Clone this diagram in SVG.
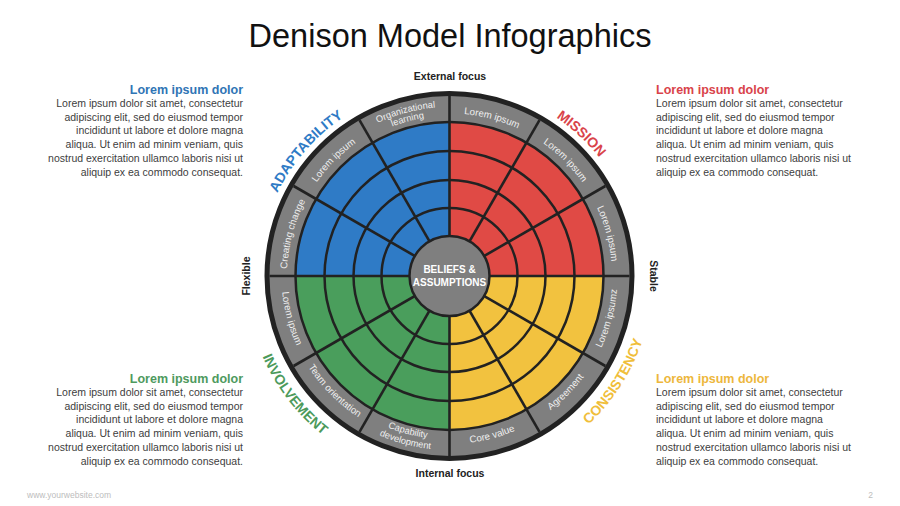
<svg xmlns="http://www.w3.org/2000/svg" width="900" height="506" viewBox="0 0 900 506">
<style>
text{font-family:"Liberation Sans",Arial,sans-serif}
.title{font-size:32.5px;fill:#111}
.axis{font-size:10.5px;font-weight:bold;fill:#222}
.head{font-size:12.5px;font-weight:bold}
.body{font-size:10.5px;fill:#404040}
.rl{font-size:9.7px;fill:#efefef}
.rl2{font-size:9.3px;fill:#efefef}
.qt{font-size:14px;font-weight:bold}
.center{font-size:10px;font-weight:bold;fill:#fff}
.foot{font-size:8.5px;fill:#bdbdbd}
.ring{fill:none;stroke:#222;stroke-width:2.5}
.div{stroke:#222;stroke-width:2.6}
</style>
<defs>
<path id="arcT162" d="M345.05,151.52 A162.5,162.5 0 0 1 553.95,151.52"/>
<path id="arcT169" d="M340.87,146.55 A169,169 0 0 1 558.13,146.55"/>
<path id="arcT160" d="M346.65,153.44 A160,160 0 0 1 552.35,153.44"/>
<path id="arcB168" d="M341.51,404.69 A168,168 0 0 0 557.49,404.69"/>
<path id="arcB163" d="M344.40,401.24 A163.5,163.5 0 0 0 554.60,401.24"/>
<path id="arcB174" d="M337.65,409.28 A174,174 0 0 0 561.35,409.28"/>
<path id="arcT191" d="M326.73,129.69 A191,191 0 0 1 572.27,129.69"/>
<path id="arcB203" d="M318.69,431.88 A203.5,203.5 0 0 0 580.31,431.88"/>
</defs>
<rect width="900" height="506" fill="#fff"/>
<text class="title" x="450" y="47" text-anchor="middle">Denison Model Infographics</text>
<text class="axis" x="450" y="80" text-anchor="middle">External focus</text>
<text class="axis" x="450" y="477" text-anchor="middle">Internal focus</text>
<text class="axis" x="249.5" y="276" text-anchor="middle" transform="rotate(-90 249.5 276)">Flexible</text>
<text class="axis" x="650" y="276" text-anchor="middle" transform="rotate(90 650 276)">Stable</text>

<g id="wheel">
<circle cx="449.5" cy="276" r="167.5" fill="none" stroke="#7f7f7f" stroke-width="27"/>
<g id="quadrant-mission">
<path d="M449.5,276 L449.5,122 A154,154 0 0 1 603.5,276 Z" fill="#E04A45"/>
</g>
<g id="quadrant-consistency">
<path d="M449.5,276 L603.5,276 A154,154 0 0 1 449.5,430 Z" fill="#F2C23F"/>
</g>
<g id="quadrant-involvement">
<path d="M449.5,276 L449.5,430 A154,154 0 0 1 295.5,276 Z" fill="#4A9E5C"/>
</g>
<g id="quadrant-adaptability">
<path d="M449.5,276 L295.5,276 A154,154 0 0 1 449.5,122 Z" fill="#2F7BC6"/>
</g>
<g id="rings">
<circle class="ring" cx="449.5" cy="276" r="68"/>
<circle class="ring" cx="449.5" cy="276" r="96"/>
<circle class="ring" cx="449.5" cy="276" r="125"/>
<circle class="ring" cx="449.5" cy="276" r="154"/>
</g>
<g id="connectors">
<line class="div" x1="449.5" y1="96" x2="449.5" y2="456"/>
<line class="div" x1="269.5" y1="276" x2="629.5" y2="276"/>
<line class="div" x1="539.5" y1="120.12" x2="359.5" y2="431.88"/>
<line class="div" x1="605.38" y1="186" x2="293.62" y2="366"/>
<line class="div" x1="605.38" y1="366" x2="293.62" y2="186"/>
<line class="div" x1="539.5" y1="431.88" x2="359.5" y2="120.12"/>
</g>
<circle cx="449.5" cy="276" r="182.5" fill="none" stroke="#222" stroke-width="5"/>
<g id="center-node">
<circle cx="449.5" cy="276" r="40" fill="#7f7f7f" stroke="#222" stroke-width="2.5"/>
<text class="center" x="449.5" y="273" text-anchor="middle">BELIEFS &amp;</text>
<text class="center" x="449.5" y="285.5" text-anchor="middle">ASSUMPTIONS</text>
</g>
<g id="ring-labels">
<text class="rl" text-anchor="middle" transform="rotate(15 449.5 276)"><textPath href="#arcT162" startOffset="50%">Lorem ipsum</textPath></text>
<text class="rl" text-anchor="middle" transform="rotate(45 449.5 276)"><textPath href="#arcT162" startOffset="50%">Lorem ipsum</textPath></text>
<text class="rl" text-anchor="middle" transform="rotate(75 449.5 276)"><textPath href="#arcT162" startOffset="50%">Lorem ipsum</textPath></text>
<text class="rl" text-anchor="middle" transform="rotate(-75 449.5 276)"><textPath href="#arcT162" startOffset="50%">Creating change</textPath></text>
<text class="rl" text-anchor="middle" transform="rotate(-45 449.5 276)"><textPath href="#arcT162" startOffset="50%">Lorem ipsum</textPath></text>
<text class="rl2" text-anchor="middle" transform="rotate(-15 449.5 276)"><textPath href="#arcT169" startOffset="50%">Organizational</textPath></text>
<text class="rl2" text-anchor="middle" transform="rotate(-15 449.5 276)"><textPath href="#arcT160" startOffset="50%">learning</textPath></text>
<text class="rl" text-anchor="middle" transform="rotate(-75 449.5 276)"><textPath href="#arcB168" startOffset="50%">Lorem ipsumz</textPath></text>
<text class="rl" text-anchor="middle" transform="rotate(-45 449.5 276)"><textPath href="#arcB168" startOffset="50%">Agreement</textPath></text>
<text class="rl" text-anchor="middle" transform="rotate(-15 449.5 276)"><textPath href="#arcB168" startOffset="50%">Core value</textPath></text>
<text class="rl2" text-anchor="middle" transform="rotate(15 449.5 276)"><textPath href="#arcB163" startOffset="50%">Capability</textPath></text>
<text class="rl2" text-anchor="middle" transform="rotate(15 449.5 276)"><textPath href="#arcB174" startOffset="50%">development</textPath></text>
<text class="rl" text-anchor="middle" transform="rotate(45 449.5 276)"><textPath href="#arcB168" startOffset="50%">Team orientation</textPath></text>
<text class="rl" text-anchor="middle" transform="rotate(75 449.5 276)"><textPath href="#arcB168" startOffset="50%">Lorem ipsum</textPath></text>
</g>
<g id="quadrant-titles">
<text class="qt" fill="#2F7BC6" text-anchor="middle" transform="rotate(-49 449.5 276)"><textPath href="#arcT191" startOffset="50%">ADAPTABILITY</textPath></text>
<text class="qt" fill="#D9434A" text-anchor="middle" transform="rotate(42.8 449.5 276)"><textPath href="#arcT191" startOffset="50%">MISSION</textPath></text>
<text class="qt" fill="#4C9A5B" text-anchor="middle" transform="rotate(52.6 449.5 276)"><textPath href="#arcB203" startOffset="50%">INVOLVEMENT</textPath></text>
<text class="qt" fill="#F0BE3A" text-anchor="middle" transform="rotate(-57.3 449.5 276)"><textPath href="#arcB203" startOffset="50%">CONSISTENCY</textPath></text>
</g>
</g>

<g id="text-adaptability" text-anchor="end">
<text class="head" x="243" y="94" fill="#2F75B5">Lorem ipsum dolor</text>
<text class="body" x="243" y="107">Lorem ipsum dolor sit amet, consectetur</text>
<text class="body" x="243" y="120.7">adipiscing elit,  sed do eiusmod tempor</text>
<text class="body" x="243" y="134.4">incididunt ut labore et dolore magna</text>
<text class="body" x="243" y="148.1">aliqua. Ut enim ad minim veniam, quis</text>
<text class="body" x="243" y="161.8">nostrud exercitation ullamco laboris nisi ut</text>
<text class="body" x="243" y="175.5">aliquip ex ea  commodo consequat.</text>
</g>
<g id="text-mission">
<text class="head" x="656" y="94" fill="#D9434A">Lorem ipsum dolor</text>
<text class="body" x="656" y="107">Lorem ipsum dolor sit amet, consectetur</text>
<text class="body" x="656" y="120.7">adipiscing elit,  sed do eiusmod tempor</text>
<text class="body" x="656" y="134.4">incididunt ut labore et dolore magna</text>
<text class="body" x="656" y="148.1">aliqua. Ut enim ad minim veniam, quis</text>
<text class="body" x="656" y="161.8">nostrud exercitation ullamco laboris nisi ut</text>
<text class="body" x="656" y="175.5">aliquip ex ea  commodo consequat.</text>
</g>
<g id="text-involvement" text-anchor="end">
<text class="head" x="243" y="382.5" fill="#4E9A5E">Lorem ipsum dolor</text>
<text class="body" x="243" y="396">Lorem ipsum dolor sit amet, consectetur</text>
<text class="body" x="243" y="409.7">adipiscing elit,  sed do eiusmod tempor</text>
<text class="body" x="243" y="423.4">incididunt ut labore et dolore magna</text>
<text class="body" x="243" y="437.1">aliqua. Ut enim ad minim veniam, quis</text>
<text class="body" x="243" y="450.8">nostrud exercitation ullamco laboris nisi ut</text>
<text class="body" x="243" y="464.5">aliquip ex ea  commodo consequat.</text>
</g>
<g id="text-consistency">
<text class="head" x="656" y="382.5" fill="#EDB73C">Lorem ipsum dolor</text>
<text class="body" x="656" y="396">Lorem ipsum dolor sit amet, consectetur</text>
<text class="body" x="656" y="409.7">adipiscing elit,  sed do eiusmod tempor</text>
<text class="body" x="656" y="423.4">incididunt ut labore et dolore magna</text>
<text class="body" x="656" y="437.1">aliqua. Ut enim ad minim veniam, quis</text>
<text class="body" x="656" y="450.8">nostrud exercitation ullamco laboris nisi ut</text>
<text class="body" x="656" y="464.5">aliquip ex ea  commodo consequat.</text>
</g>
<text class="foot" x="27" y="498">www.yourwebsite.com</text>
<text class="foot" x="873" y="498" text-anchor="end">2</text>
</svg>
